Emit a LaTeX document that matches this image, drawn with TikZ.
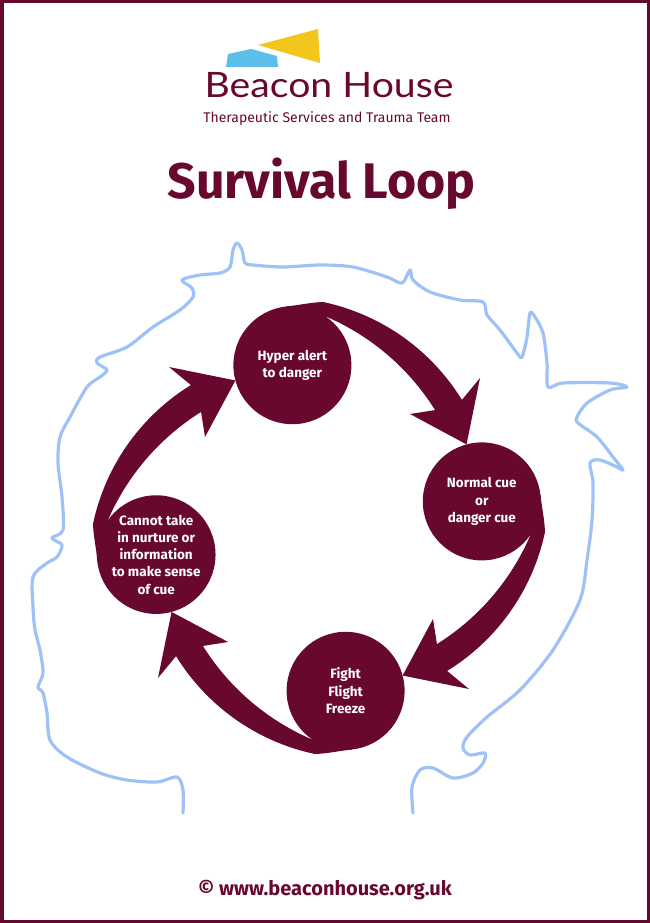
\documentclass[tikz,border=0pt]{standalone}
\usepackage{fontspec}
\setmainfont{Fira Sans}
\newfontfamily\logofont[FakeStretch=1.12]{Lato}
\usetikzlibrary{backgrounds}
\definecolor{loopred}{RGB}{104,8,46}
\definecolor{hairblue}{RGB}{158,194,247}
\definecolor{logoblue}{RGB}{94,190,234}
\definecolor{logoyellow}{RGB}{242,198,26}
\tikzset{stage/.style={circle, fill=loopred, text=white, minimum size=118pt, inner sep=0pt, outer sep=0pt,
    align=center, font=\bfseries\fontsize{13.5}{17.3}\selectfont},
  hair/.style={draw=hairblue, line width=3.2pt, line cap=round, line join=round},
  label/.style={anchor=base, text=loopred, inner sep=0pt}}

\begin{document}
\begin{tikzpicture}[x=1pt,y=-1pt]
\useasboundingbox (0,0) rectangle (650,923);
\draw[loopred, line width=3.5pt] (1.75,1.75) rectangle (648.25,921.25);
\fill[logoblue] (226,67) -- (228,54) -- (251,49) -- (277,56) -- (278,67) -- cycle;
\fill[logoyellow] (258,45) -- (318,29) -- (320,63) -- cycle;
\node[label, font=\logofont\fontsize{35}{35}\selectfont] (name) at (329,97.7) {Beacon House};
\node[label, font=\fontsize{14}{14}\selectfont] (team) at (327,123) {Therapeutic Services and Trauma Team};
\node[label, font=\bfseries\fontsize{50}{50}\selectfont] (title) at (321.5,198.3) {Survival Loop};
\node[label, font=\bfseries\fontsize{20}{20}\selectfont] (web) at (325,895) {© www.beaconhouse.org.uk};

\draw[hair] plot[smooth, tension=0.5] coordinates {(183,813) (183,790) (177,777) (157,782) (127,780) (100,773)
  (67,757) (50,740) (47,713) (43,693) (38,687) (43,673) (40,650) (35,630) (33,607) (33,577) (47,563) (57,557)
  (62,545) (52,538) (63,530) (62,497) (58,463) (60,437) (70,417) (87,387) (100,377) (107,370) (97,363)
  (100,357) (127,347) (153,327) (180,310) (193,297) (192,288) (182,280) (200,275) (220,273) (230,267)
  (233,250) (237,243) (242,250) (245,263) (253,265) (283,267) (320,265) (353,267) (387,277) (402,283)
  (410,270) (413,280) (430,292) (460,300) (483,302) (487,315) (500,330) (517,353) (522,357) (527,337)
  (530,313) (535,317) (543,333) (547,363) (548,387) (563,383) (610,383) (627,387) (610,390) (587,403)
  (577,417) (578,423) (597,437) (613,457) (623,470) (617,467) (600,460) (590,463) (593,483) (592,520)
  (587,560) (580,600) (553,650) (520,690) (487,717) (467,737) (463,748) (470,755) (485,753) (483,763)
  (473,773) (453,778) (433,768) (420,770) (412,787) (413,813)};

\coordinate (loop) at (319,528);
\node[stage] (hyper) at (292.4,365.2) {Hyper alert\\to danger};
\node[stage] (normal) at (481.8,501.4) {Normal cue\\or\\danger cue};
\node[stage] (fight) at (345.6,690.8) {Fight\\Flight\\Freeze};
\node[stage] (cannot) at (156.2,554.6) {Cannot take\\in nurture or\\information\\to make sense\\of cue};

\begin{scope}[on background layer]
\foreach \a/\src/\dst [evaluate=\a as \b using {int(mod(465-\a,360))}] in {0/hyper/normal,90/normal/fight,180/fight/cannot,270/cannot/hyper}
{
  \fill[loopred, rotate around={-\a:(loop)}] (\src.center) -- (286,306.5)
    .. controls (300,305) and (310,302.5) .. (323,302)
    -- plot[domain=-78:-31.6, samples=30] ({278.4+215.5*cos(\x)}, {512.8+215.5*sin(\x)})
    -- (480,378) -- (\dst.\b) -- (410,414)
    -- plot[domain=-32:-66.5, samples=30] ({231.3+240.3*cos(\x)}, {537.4+240.3*sin(\x)})
    -- cycle;
}
\end{scope}
\end{tikzpicture}
\end{document}
